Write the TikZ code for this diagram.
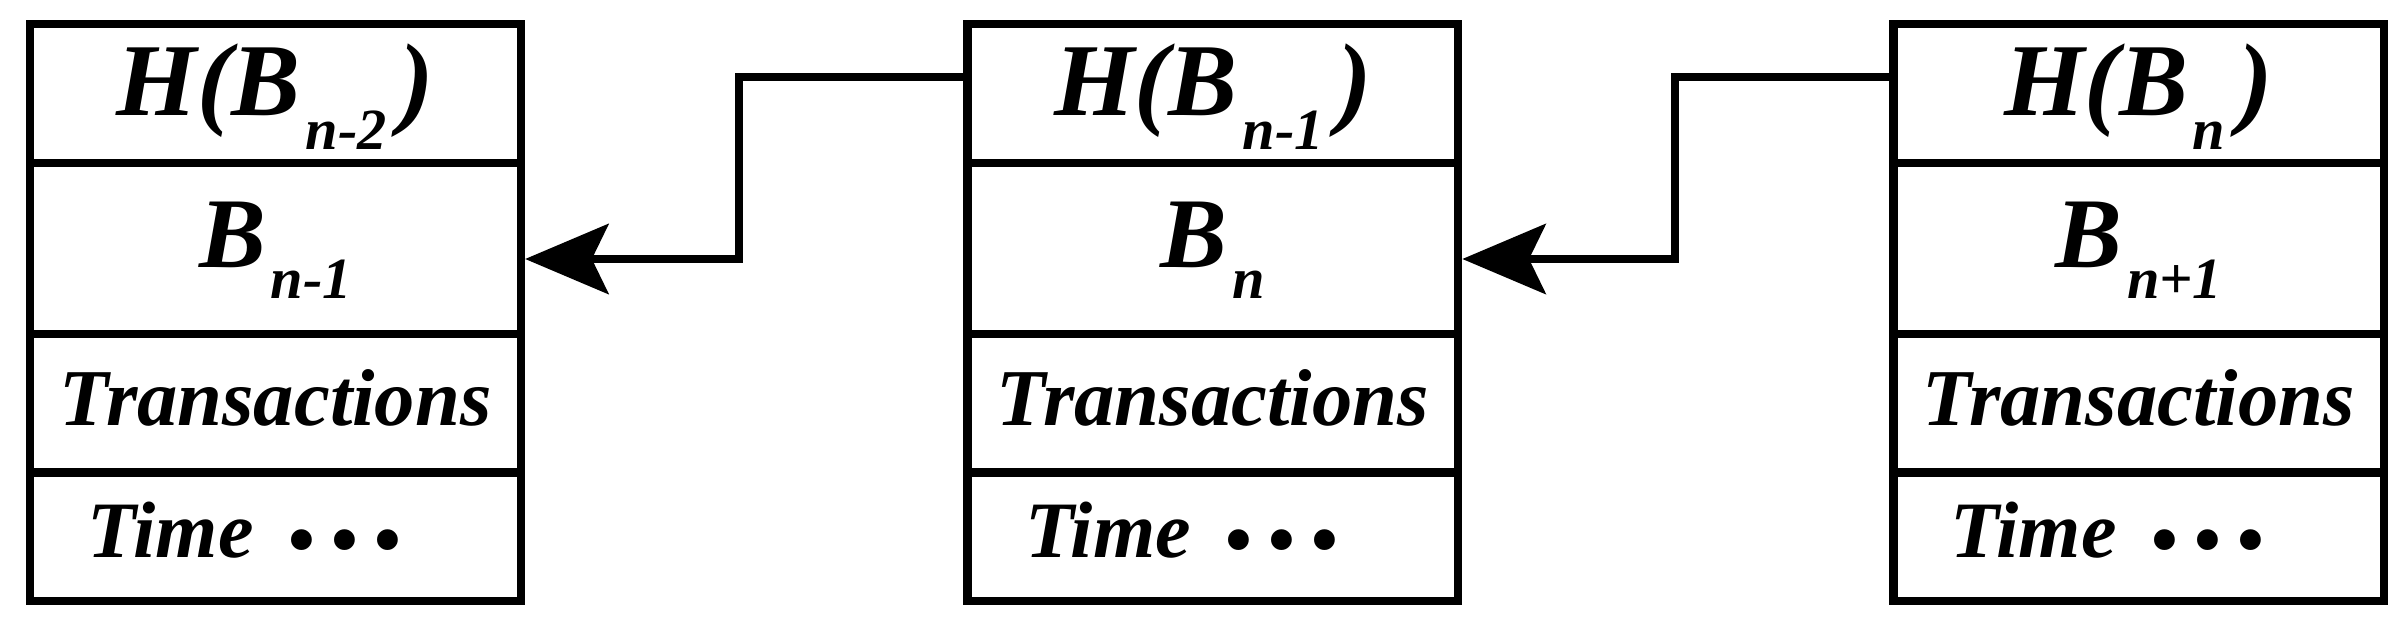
\documentclass[tikz,border=0pt]{standalone}
\usepackage{fontspec}
\setmainfont{Liberation Serif}
\usetikzlibrary{arrows.meta,calc}
\newcommand\mainsz{\fontsize{31}{32}\selectfont}
\newcommand\bsz{\fontsize{30}{32}\selectfont}
\newcommand\subsz{\fontsize{17.5}{19}\selectfont}
\newcommand\txsz{\fontsize{24.2}{26}\selectfont}
\newcommand\tmsz{\fontsize{24}{26}\selectfont}
\newcommand\dotsz{\fontsize{23}{24}\selectfont}
\begin{document}
\begin{tikzpicture}[x=0.3pt,y=-0.3pt,
  cell/.style={draw,line width=2.5pt,minimum width=147.2pt,inner sep=0pt},
  hcell/.style={cell,minimum height=41.79pt},
  bcell/.style={cell,minimum height=51.21pt},
  tcell/.style={cell,minimum height=41.55pt},
  mcell/.style={cell,minimum height=38.55pt},
  txt/.style={anchor=base,inner sep=0pt,font=\bfseries\itshape},
  conn/.style={line width=2.4pt,-{Stealth[length=25pt,width=21pt,inset=5pt]}}
]
\useasboundingbox (0,0) rectangle (2404,625);
\foreach \i/\x/\hs/\bs in {1/275.65/n-2/n-1, 2/1212.85/n-1/n, 3/2138.65/n/n+1}{
  \node[hcell] (b\i h) at (\x,93.65) {};
  \node[bcell] (b\i b) at (\x,248.65) {};
  \node[tcell] (b\i t) at (\x,403.25) {};
  \node[mcell] (b\i m) at (\x,536.75) {};
  \node[txt] (l\i h) at ($(b\i h.center)+(0,22.35)$)
    {\mainsz H(B\kern1.5pt\raisebox{-10pt}{\subsz \hs}\kern4pt)};
  \node[txt] (l\i b) at ($(b\i b.center)+(0,18.35)$)
    {\bsz B\kern1.5pt\raisebox{-9.5pt}{\subsz \bs}};
  \node[txt] (l\i t) at ($(b\i t.center)+(0,21.75)$) {\txsz Transactions};
  \node[txt] (l\i m) at ($(b\i m.center)+(-31,20.25)$)
    {\tmsz Time\hspace{10.5pt}\raisebox{-2.4pt}{\upshape\dotsz •\hspace{4.85pt}•\hspace{4.85pt}•}};
}
\coordinate (k1) at (739,77.5);
\coordinate (k2) at (739,259);
\coordinate (k3) at (1675,77.5);
\coordinate (k4) at (1675,259);
\draw[conn] (b2h.west |- k1) -- (k1) -- (k2) -- (b1b.east |- k2);
\draw[conn] (b3h.west |- k3) -- (k3) -- (k4) -- (b2b.east |- k4);
\end{tikzpicture}
\end{document}
